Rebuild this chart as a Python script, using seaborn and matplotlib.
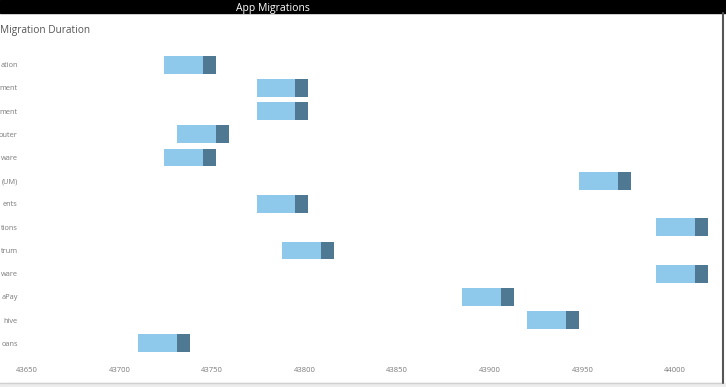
import numpy as np
import matplotlib
matplotlib.use("Agg")
import matplotlib.pyplot as plt
import seaborn as sns

# Row labels as they show in the (cropped) reference, top to bottom
apps = ["ation", "ment", "ment", "outer", "ware", "(UM)", "ents",
        "tions", "trum", "ware", "aPay", "hive", "oans"]
# Migration start (date serial), main duration and completion segment (days)
start = [43724, 43774, 43774, 43731, 43724, 43948, 43774,
         43990, 43788, 43990, 43885, 43920, 43710]
duration = [21, 21, 21, 21, 21, 21, 21, 21, 21, 21, 21, 21, 21]
completion = [7, 7, 7, 7, 7, 7, 7, 7, 7, 7, 7, 7, 7]
xticks = [43650, 43700, 43750, 43800, 43850, 43900, 43950, 44000]

W, H = 726, 387
sns.set_theme(style="white")
plt.rcParams['font.family'] = ['Open Sans', 'DejaVu Sans']

fig = plt.figure(figsize=(W / 100, H / 100), dpi=100)
fig.patch.set_facecolor("white")

# header band and frame
fig.add_artist(plt.Rectangle((0, 1 - 13 / H), 1, 13 / H, transform=fig.transFigure,
                             color="black", zorder=0))
fig.text(273 / W, 1 - 8 / H, "App Migrations", color="white", fontsize=7.5,
         ha="center", va="center")
fig.add_artist(plt.Rectangle((0, 0), 1, 4 / H, transform=fig.transFigure,
                             color="#ececec", zorder=0))
fig.add_artist(plt.Line2D([0, 722 / W], [4 / H, 4 / H], transform=fig.transFigure,
                          color="#d0d0d0", lw=1))
fig.add_artist(plt.Line2D([722.5 / W, 722.5 / W], [4 / H, 1 - 13 / H],
                          transform=fig.transFigure, color="#555555", lw=1.5))
fig.text(0.5 / W, 1 - 31 / H, "Migration Duration", color="#555555", fontsize=7.3,
         ha="left", va="center")

# axes placement in pixels
ax_l, ax_r, ax_t, ax_b = 22, 718, 53, 355
ax = fig.add_axes([ax_l / W, 1 - ax_b / H, (ax_r - ax_l) / W, (ax_b - ax_t) / H])

px_per_unit = (675 - 27) / 350.0
x0 = 43650 + (ax_l - 27) / px_per_unit
x1 = 43650 + (ax_r - 27) / px_per_unit

y = np.arange(len(apps))
s = np.array(start, dtype=float)
d = np.array(duration, dtype=float)
c = np.array(completion, dtype=float)
ax.barh(y, d, left=s, height=0.77, color="#8ec8ea", linewidth=0)
ax.barh(y, c, left=s + d, height=0.77, color="#4f7893", linewidth=0)

ax.set_xlim(x0, x1)
ax.set_ylim(len(apps) - 0.5, -0.5)
ax.set_yticks(y)
ax.set_yticklabels(apps)
ax.set_xticks(xticks)
ax.set_xticklabels([str(t) for t in xticks])
ax.tick_params(axis="both", length=0, labelsize=5.5, labelcolor="#7a7a7a")
ax.tick_params(axis="y", labelsize=5.3, pad=3)
ax.tick_params(axis="x", pad=9)
for sp in ax.spines.values():
    sp.set_visible(False)
ax.set_facecolor("none")

fig.savefig("out.png", dpi=100)
